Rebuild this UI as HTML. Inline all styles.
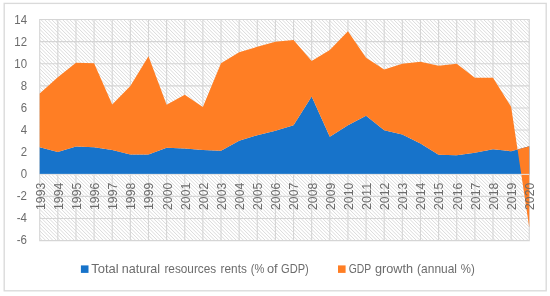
<!DOCTYPE html>
<html lang="en"><head><meta charset="utf-8"><title>Chart</title>
<style>html,body{margin:0;padding:0;background:#fff}svg{display:block}text{font-family:'Liberation Sans', sans-serif;fill:#6c6c6c}</style></head><body>
<svg width="550" height="296" viewBox="0 0 550 296">
<defs><clipPath id="c"><rect x="39.7" y="19.5" width="489.55" height="221.1"/></clipPath></defs>
<rect width="550" height="296" fill="#fff"/>
<rect x="4.2" y="3.4" width="542" height="287.4" fill="#fff" stroke="#dadada" stroke-width="1.35"/>
<path clip-path="url(#c)" d="M-182.4 19.5l221.1 221.1M-178.8 19.5l221.1 221.1M-175.2 19.5l221.1 221.1M-171.6 19.5l221.1 221.1M-168 19.5l221.1 221.1M-164.4 19.5l221.1 221.1M-160.8 19.5l221.1 221.1M-157.2 19.5l221.1 221.1M-153.6 19.5l221.1 221.1M-150 19.5l221.1 221.1M-146.4 19.5l221.1 221.1M-142.8 19.5l221.1 221.1M-139.2 19.5l221.1 221.1M-135.6 19.5l221.1 221.1M-132 19.5l221.1 221.1M-128.4 19.5l221.1 221.1M-124.8 19.5l221.1 221.1M-121.2 19.5l221.1 221.1M-117.6 19.5l221.1 221.1M-114 19.5l221.1 221.1M-110.4 19.5l221.1 221.1M-106.8 19.5l221.1 221.1M-103.2 19.5l221.1 221.1M-99.6 19.5l221.1 221.1M-96 19.5l221.1 221.1M-92.4 19.5l221.1 221.1M-88.8 19.5l221.1 221.1M-85.2 19.5l221.1 221.1M-81.6 19.5l221.1 221.1M-78 19.5l221.1 221.1M-74.4 19.5l221.1 221.1M-70.8 19.5l221.1 221.1M-67.2 19.5l221.1 221.1M-63.6 19.5l221.1 221.1M-60 19.5l221.1 221.1M-56.4 19.5l221.1 221.1M-52.8 19.5l221.1 221.1M-49.2 19.5l221.1 221.1M-45.6 19.5l221.1 221.1M-42 19.5l221.1 221.1M-38.4 19.5l221.1 221.1M-34.8 19.5l221.1 221.1M-31.2 19.5l221.1 221.1M-27.6 19.5l221.1 221.1M-24 19.5l221.1 221.1M-20.4 19.5l221.1 221.1M-16.8 19.5l221.1 221.1M-13.2 19.5l221.1 221.1M-9.6 19.5l221.1 221.1M-6 19.5l221.1 221.1M-2.4 19.5l221.1 221.1M1.2 19.5l221.1 221.1M4.8 19.5l221.1 221.1M8.4 19.5l221.1 221.1M12 19.5l221.1 221.1M15.6 19.5l221.1 221.1M19.2 19.5l221.1 221.1M22.8 19.5l221.1 221.1M26.4 19.5l221.1 221.1M30 19.5l221.1 221.1M33.6 19.5l221.1 221.1M37.2 19.5l221.1 221.1M40.8 19.5l221.1 221.1M44.4 19.5l221.1 221.1M48 19.5l221.1 221.1M51.6 19.5l221.1 221.1M55.2 19.5l221.1 221.1M58.8 19.5l221.1 221.1M62.4 19.5l221.1 221.1M66 19.5l221.1 221.1M69.6 19.5l221.1 221.1M73.2 19.5l221.1 221.1M76.8 19.5l221.1 221.1M80.4 19.5l221.1 221.1M84 19.5l221.1 221.1M87.6 19.5l221.1 221.1M91.2 19.5l221.1 221.1M94.8 19.5l221.1 221.1M98.4 19.5l221.1 221.1M102 19.5l221.1 221.1M105.6 19.5l221.1 221.1M109.2 19.5l221.1 221.1M112.8 19.5l221.1 221.1M116.4 19.5l221.1 221.1M120 19.5l221.1 221.1M123.6 19.5l221.1 221.1M127.2 19.5l221.1 221.1M130.8 19.5l221.1 221.1M134.4 19.5l221.1 221.1M138 19.5l221.1 221.1M141.6 19.5l221.1 221.1M145.2 19.5l221.1 221.1M148.8 19.5l221.1 221.1M152.4 19.5l221.1 221.1M156 19.5l221.1 221.1M159.6 19.5l221.1 221.1M163.2 19.5l221.1 221.1M166.8 19.5l221.1 221.1M170.4 19.5l221.1 221.1M174 19.5l221.1 221.1M177.6 19.5l221.1 221.1M181.2 19.5l221.1 221.1M184.8 19.5l221.1 221.1M188.4 19.5l221.1 221.1M192 19.5l221.1 221.1M195.6 19.5l221.1 221.1M199.2 19.5l221.1 221.1M202.8 19.5l221.1 221.1M206.4 19.5l221.1 221.1M210 19.5l221.1 221.1M213.6 19.5l221.1 221.1M217.2 19.5l221.1 221.1M220.8 19.5l221.1 221.1M224.4 19.5l221.1 221.1M228 19.5l221.1 221.1M231.6 19.5l221.1 221.1M235.2 19.5l221.1 221.1M238.8 19.5l221.1 221.1M242.4 19.5l221.1 221.1M246 19.5l221.1 221.1M249.6 19.5l221.1 221.1M253.2 19.5l221.1 221.1M256.8 19.5l221.1 221.1M260.4 19.5l221.1 221.1M264 19.5l221.1 221.1M267.6 19.5l221.1 221.1M271.2 19.5l221.1 221.1M274.8 19.5l221.1 221.1M278.4 19.5l221.1 221.1M282 19.5l221.1 221.1M285.6 19.5l221.1 221.1M289.2 19.5l221.1 221.1M292.8 19.5l221.1 221.1M296.4 19.5l221.1 221.1M300 19.5l221.1 221.1M303.6 19.5l221.1 221.1M307.2 19.5l221.1 221.1M310.8 19.5l221.1 221.1M314.4 19.5l221.1 221.1M318 19.5l221.1 221.1M321.6 19.5l221.1 221.1M325.2 19.5l221.1 221.1M328.8 19.5l221.1 221.1M332.4 19.5l221.1 221.1M336 19.5l221.1 221.1M339.6 19.5l221.1 221.1M343.2 19.5l221.1 221.1M346.8 19.5l221.1 221.1M350.4 19.5l221.1 221.1M354 19.5l221.1 221.1M357.6 19.5l221.1 221.1M361.2 19.5l221.1 221.1M364.8 19.5l221.1 221.1M368.4 19.5l221.1 221.1M372 19.5l221.1 221.1M375.6 19.5l221.1 221.1M379.2 19.5l221.1 221.1M382.8 19.5l221.1 221.1M386.4 19.5l221.1 221.1M390 19.5l221.1 221.1M393.6 19.5l221.1 221.1M397.2 19.5l221.1 221.1M400.8 19.5l221.1 221.1M404.4 19.5l221.1 221.1M408 19.5l221.1 221.1M411.6 19.5l221.1 221.1M415.2 19.5l221.1 221.1M418.8 19.5l221.1 221.1M422.4 19.5l221.1 221.1M426 19.5l221.1 221.1M429.6 19.5l221.1 221.1M433.2 19.5l221.1 221.1M436.8 19.5l221.1 221.1M440.4 19.5l221.1 221.1M444 19.5l221.1 221.1M447.6 19.5l221.1 221.1M451.2 19.5l221.1 221.1M454.8 19.5l221.1 221.1M458.4 19.5l221.1 221.1M462 19.5l221.1 221.1M465.6 19.5l221.1 221.1M469.2 19.5l221.1 221.1M472.8 19.5l221.1 221.1M476.4 19.5l221.1 221.1M480 19.5l221.1 221.1M483.6 19.5l221.1 221.1M487.2 19.5l221.1 221.1M490.8 19.5l221.1 221.1M494.4 19.5l221.1 221.1M498 19.5l221.1 221.1M501.6 19.5l221.1 221.1M505.2 19.5l221.1 221.1M508.8 19.5l221.1 221.1M512.4 19.5l221.1 221.1M516 19.5l221.1 221.1M519.6 19.5l221.1 221.1M523.2 19.5l221.1 221.1M526.8 19.5l221.1 221.1" fill="none" stroke="#dadada" stroke-width="1.0"/>
<path d="M39.15 240.6H529.8M39.15 218.49H529.8M39.15 196.38H529.8M39.15 152.16H529.8M39.15 130.05H529.8M39.15 107.94H529.8M39.15 85.83H529.8M39.15 63.72H529.8M39.15 41.61H529.8M39.15 19.5H529.8M39.7 19.5V240.6M57.83 19.5V240.6M75.96 19.5V240.6M94.09 19.5V240.6M112.23 19.5V240.6M130.36 19.5V240.6M148.49 19.5V240.6M166.62 19.5V240.6M184.75 19.5V240.6M202.88 19.5V240.6M221.01 19.5V240.6M239.15 19.5V240.6M257.28 19.5V240.6M275.41 19.5V240.6M293.54 19.5V240.6M311.67 19.5V240.6M329.8 19.5V240.6M347.94 19.5V240.6M366.07 19.5V240.6M384.2 19.5V240.6M402.33 19.5V240.6M420.46 19.5V240.6M438.59 19.5V240.6M456.72 19.5V240.6M474.86 19.5V240.6M492.99 19.5V240.6M511.12 19.5V240.6M529.25 19.5V240.6" fill="none" stroke="#d5d5d5" stroke-width="1.1"/>
<polygon points="39.7,147.35 57.83,151.88 75.96,146.47 94.09,147.13 112.23,150.11 130.36,154.54 148.49,154.54 166.62,147.68 184.75,148.46 202.88,150 221.01,150.67 239.15,140.83 257.28,135.19 275.41,130.77 293.54,125.24 311.67,96.39 329.8,136.85 347.94,125.24 366.07,115.73 384.2,130.22 402.33,134.42 420.46,143.48 438.59,154.76 456.72,155.31 474.86,152.77 492.99,149.23 511.12,151.22 529.25,146.25 529.25,174.27 39.7,174.27" fill="#1773ca"/>
<polygon points="39.7,93.51 57.83,77.15 75.96,62.67 94.09,63.33 112.23,104.57 130.36,86 148.49,56.37 166.62,104.79 184.75,94.73 202.88,107 221.01,63.33 239.15,52.28 257.28,46.75 275.41,41.78 293.54,40.12 311.67,61.12 329.8,50.07 347.94,31.27 366.07,57.81 384.2,69.41 402.33,63.78 420.46,61.79 438.59,65.77 456.72,63.78 474.86,77.7 492.99,77.7 511.12,106.78 529.25,227.56 529.25,146.25 511.12,151.22 492.99,149.23 474.86,152.77 456.72,155.31 438.59,154.76 420.46,143.48 402.33,134.42 384.2,130.22 366.07,115.73 347.94,125.24 329.8,136.85 311.67,96.39 293.54,125.24 275.41,130.77 257.28,135.19 239.15,140.83 221.01,150.67 202.88,150 184.75,148.46 166.62,147.68 148.49,154.54 130.36,154.54 112.23,150.11 94.09,147.13 75.96,146.47 57.83,151.88 39.7,147.35" fill="#ff7e24"/>
<path d="M39.7 174.37H529.25" fill="none" stroke="#e9e6e3" stroke-width="1.0"/>
<text x="16.75" y="244.1" font-size="12.2" textLength="10.25" lengthAdjust="spacingAndGlyphs">-6</text>
<text x="16.75" y="222.1" font-size="12.2" textLength="10.25" lengthAdjust="spacingAndGlyphs">-4</text>
<text x="16.75" y="200.1" font-size="12.2" textLength="10.25" lengthAdjust="spacingAndGlyphs">-2</text>
<text x="20.65" y="178.1" font-size="12.2" textLength="6.35" lengthAdjust="spacingAndGlyphs">0</text>
<text x="20.65" y="156.1" font-size="12.2" textLength="6.35" lengthAdjust="spacingAndGlyphs">2</text>
<text x="20.65" y="134.1" font-size="12.2" textLength="6.35" lengthAdjust="spacingAndGlyphs">4</text>
<text x="20.65" y="112.1" font-size="12.2" textLength="6.35" lengthAdjust="spacingAndGlyphs">6</text>
<text x="20.65" y="90.1" font-size="12.2" textLength="6.35" lengthAdjust="spacingAndGlyphs">8</text>
<text x="14.3" y="68.1" font-size="12.2" textLength="12.7" lengthAdjust="spacingAndGlyphs">10</text>
<text x="14.3" y="46.1" font-size="12.2" textLength="12.7" lengthAdjust="spacingAndGlyphs">12</text>
<text x="14.3" y="24.1" font-size="12.2" textLength="12.7" lengthAdjust="spacingAndGlyphs">14</text>
<text transform="translate(44.6 209.9) rotate(-90)" font-size="12.2" textLength="27.1" lengthAdjust="spacingAndGlyphs">1993</text>
<text transform="translate(62.73 209.9) rotate(-90)" font-size="12.2" textLength="27.1" lengthAdjust="spacingAndGlyphs">1994</text>
<text transform="translate(80.86 209.9) rotate(-90)" font-size="12.2" textLength="27.1" lengthAdjust="spacingAndGlyphs">1995</text>
<text transform="translate(98.99 209.9) rotate(-90)" font-size="12.2" textLength="27.1" lengthAdjust="spacingAndGlyphs">1996</text>
<text transform="translate(117.13 209.9) rotate(-90)" font-size="12.2" textLength="27.1" lengthAdjust="spacingAndGlyphs">1997</text>
<text transform="translate(135.26 209.9) rotate(-90)" font-size="12.2" textLength="27.1" lengthAdjust="spacingAndGlyphs">1998</text>
<text transform="translate(153.39 209.9) rotate(-90)" font-size="12.2" textLength="27.1" lengthAdjust="spacingAndGlyphs">1999</text>
<text transform="translate(171.52 209.9) rotate(-90)" font-size="12.2" textLength="27.1" lengthAdjust="spacingAndGlyphs">2000</text>
<text transform="translate(189.65 209.9) rotate(-90)" font-size="12.2" textLength="27.1" lengthAdjust="spacingAndGlyphs">2001</text>
<text transform="translate(207.78 209.9) rotate(-90)" font-size="12.2" textLength="27.1" lengthAdjust="spacingAndGlyphs">2002</text>
<text transform="translate(225.91 209.9) rotate(-90)" font-size="12.2" textLength="27.1" lengthAdjust="spacingAndGlyphs">2003</text>
<text transform="translate(244.05 209.9) rotate(-90)" font-size="12.2" textLength="27.1" lengthAdjust="spacingAndGlyphs">2004</text>
<text transform="translate(262.18 209.9) rotate(-90)" font-size="12.2" textLength="27.1" lengthAdjust="spacingAndGlyphs">2005</text>
<text transform="translate(280.31 209.9) rotate(-90)" font-size="12.2" textLength="27.1" lengthAdjust="spacingAndGlyphs">2006</text>
<text transform="translate(298.44 209.9) rotate(-90)" font-size="12.2" textLength="27.1" lengthAdjust="spacingAndGlyphs">2007</text>
<text transform="translate(316.57 209.9) rotate(-90)" font-size="12.2" textLength="27.1" lengthAdjust="spacingAndGlyphs">2008</text>
<text transform="translate(334.7 209.9) rotate(-90)" font-size="12.2" textLength="27.1" lengthAdjust="spacingAndGlyphs">2009</text>
<text transform="translate(352.84 209.9) rotate(-90)" font-size="12.2" textLength="27.1" lengthAdjust="spacingAndGlyphs">2010</text>
<text transform="translate(370.97 209.9) rotate(-90)" font-size="12.2" textLength="27.1" lengthAdjust="spacingAndGlyphs">2011</text>
<text transform="translate(389.1 209.9) rotate(-90)" font-size="12.2" textLength="27.1" lengthAdjust="spacingAndGlyphs">2012</text>
<text transform="translate(407.23 209.9) rotate(-90)" font-size="12.2" textLength="27.1" lengthAdjust="spacingAndGlyphs">2013</text>
<text transform="translate(425.36 209.9) rotate(-90)" font-size="12.2" textLength="27.1" lengthAdjust="spacingAndGlyphs">2014</text>
<text transform="translate(443.49 209.9) rotate(-90)" font-size="12.2" textLength="27.1" lengthAdjust="spacingAndGlyphs">2015</text>
<text transform="translate(461.62 209.9) rotate(-90)" font-size="12.2" textLength="27.1" lengthAdjust="spacingAndGlyphs">2016</text>
<text transform="translate(479.76 209.9) rotate(-90)" font-size="12.2" textLength="27.1" lengthAdjust="spacingAndGlyphs">2017</text>
<text transform="translate(497.89 209.9) rotate(-90)" font-size="12.2" textLength="27.1" lengthAdjust="spacingAndGlyphs">2018</text>
<text transform="translate(516.02 209.9) rotate(-90)" font-size="12.2" textLength="27.1" lengthAdjust="spacingAndGlyphs">2019</text>
<text transform="translate(534.15 209.9) rotate(-90)" font-size="12.2" textLength="27.1" lengthAdjust="spacingAndGlyphs">2020</text>
<rect x="80.9" y="265.4" width="7.6" height="7.5" fill="#1773ca"/>
<text y="272.9" font-size="12.4"><tspan x="91.2" textLength="27.4" lengthAdjust="spacingAndGlyphs">Total</tspan> <tspan x="121.8" textLength="38.3" lengthAdjust="spacingAndGlyphs">natural</tspan> <tspan x="164.4" textLength="51.8" lengthAdjust="spacingAndGlyphs">resources</tspan> <tspan x="220.6" textLength="26.2" lengthAdjust="spacingAndGlyphs">rents</tspan> <tspan x="250.8" textLength="13.6" lengthAdjust="spacingAndGlyphs">(%</tspan> <tspan x="266.9" textLength="10.7" lengthAdjust="spacingAndGlyphs">of</tspan> <tspan x="281.1" textLength="27.7" lengthAdjust="spacingAndGlyphs">GDP)</tspan></text>
<rect x="338" y="265.4" width="7.6" height="7.5" fill="#ff7e24"/>
<text y="272.9" font-size="12.4"><tspan x="348.7" textLength="22.3" lengthAdjust="spacingAndGlyphs">GDP</tspan> <tspan x="374.9" textLength="38.1" lengthAdjust="spacingAndGlyphs">growth</tspan> <tspan x="417.1" textLength="39.9" lengthAdjust="spacingAndGlyphs">(annual</tspan> <tspan x="460.8" textLength="14" lengthAdjust="spacingAndGlyphs">%)</tspan></text>
</svg></body></html>
